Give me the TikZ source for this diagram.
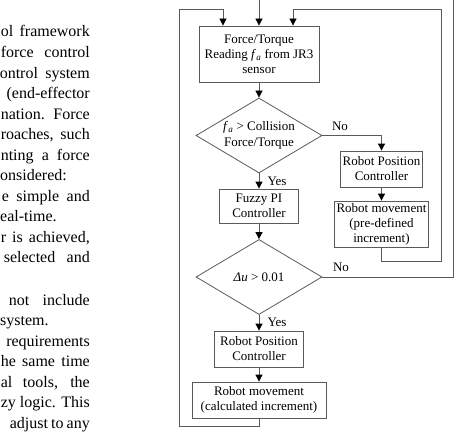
\documentclass[tikz,border=0pt]{standalone}
\usepackage{fontspec}
\setmainfont{Liberation Serif}
\usetikzlibrary{arrows.meta,shapes.geometric}
\definecolor{linegray}{RGB}{90,90,90}
\begin{document}
\begin{tikzpicture}[x=1pt,y=-1pt,
  lc/.style={draw=linegray, line width=0.8pt},
  box/.style={lc, rectangle, align=center, inner sep=0pt, font=\fontsize{13}{15}\selectfont},
  dia/.style={lc, diamond, shape aspect=1.68, inner sep=0pt, minimum width=126pt, minimum height=75pt, align=center, font=\fontsize{13}{16}\selectfont},
  arr/.style={lc, -{Triangle[length=7pt,width=7pt,color=black]}},
  lbl/.style={font=\fontsize{13}{15}\selectfont, inner sep=0pt},
  para/.style={font=\fontsize{16}{18}\selectfont, inner sep=0pt, anchor=base east},
  parl/.style={font=\fontsize{16}{18}\selectfont, inner sep=0pt, anchor=base west}
]
\useasboundingbox (0,0) rectangle (474,436);

% left column text (cut-off paragraph)
\node[para] (t0)  at (90,37)  {\makebox[89pt][s]{ol framework}};
\node[para] (t1)  at (90,57.5)  {\makebox[89pt][s]{force control}};
\node[para] (t2)  at (90,78)  {\makebox[90pt][s]{ontrol system}};
\node[para] (t3)  at (90,98.5)  {(end-effector};
\node[para] (t4)  at (90,119) {\makebox[89pt][s]{nation. Force}};
\node[para] (t5)  at (90,139.5) {\makebox[89pt][s]{roaches, such}};
\node[para] (t6)  at (90,160) {\makebox[89pt][s]{nting a force}};
\node[parl] (t7)  at (0,180.5)  {onsidered:};
\node[para] (t8)  at (90,201) {\makebox[88pt][s]{e simple and}};
\node[parl] (t9)  at (0,221.5)  {eal-time.};
\node[para] (t10) at (90,242) {\makebox[89pt][s]{r is achieved,}};
\node[para] (t11) at (90,262.5) {\makebox[86pt][s]{selected and}};
\node[para] (t13) at (90,305)   {\makebox[81pt][s]{not include}};
\node[parl] (t14) at (0,325.5)  {system.};
\node[para] (t15) at (90,346)   {requirements};
\node[para] (t16) at (90,366.5) {\makebox[89pt][s]{he same time}};
\node[para] (t17) at (90,387)   {\makebox[89pt][s]{al tools, the}};
\node[para] (t18) at (90,407.5) {\makebox[89pt][s]{zy logic. This}};
\node[para] (t19) at (90,428)   {\makebox[80pt][s]{adjust to any}};

% flowchart nodes
\node[box, minimum width=120pt, minimum height=56pt] (b1) at (259,54)
  {Force/Torque\\Reading \textit{f}\textsubscript{\textit{a}} from JR3\\sensor};
\node[dia] (d1) at (259,135.5) {\textit{f}\textsubscript{\textit{a}} > Collision\\Force/Torque};
\node[box, minimum width=79pt, minimum height=34pt] (fz) at (259,206) {Fuzzy PI\\Controller};
\node[dia] (d2) at (259,277) {\textit{Δu} > 0.01};
\node[box, minimum width=89pt, minimum height=36pt] (p2) at (259,349) {Robot Position\\Controller};
\node[box, minimum width=134pt, minimum height=36pt] (m2) at (259,400) {Robot movement\\(calculated increment)};
\node[box, minimum width=82pt, minimum height=36pt] (p1) at (381.5,169) {Robot Position\\Controller};
\node[box, minimum width=94pt, minimum height=46pt] (m1) at (381.5,224) {Robot movement\\(pre-defined\\increment)};

% labels
\node[lbl] (no1) at (340,126) {No};
\node[lbl] (yes1) at (277,181) {Yes};
\node[lbl] (no2) at (341,267) {No};
\node[lbl] (yes2) at (277,322) {Yes};

% free ends at the top edge
\coordinate (tc) at (259,0);
\coordinate (tr) at (453,0);
\coordinate (lt) at (223,9);
\coordinate (rt) at (293,9);

% connectors
\draw[arr] (tc) -- (b1.north);
\draw[arr] (b1.south) -- (d1.north);
\draw[arr] (d1.south) -- (fz.north);
\draw[arr] (fz.south) -- (d2.north);
\draw[arr] (d2.south) -- (p2.north);
\draw[arr] (p2.south) -- (m2.north);
\draw[arr] (d1.east) -| (p1.north);
\draw[arr] (p1.south) -- (m1.north);
\draw[lc] (d2.east) -- (453,277) -- (tr);
\draw[arr] (m1.south) |- (441,261) -- (441,9) -- (rt) -- (rt |- b1.north);
\draw[arr] (m2.south) |- (179,426) -- (179,9) -- (lt) -- (lt |- b1.north);
\end{tikzpicture}
\end{document}
